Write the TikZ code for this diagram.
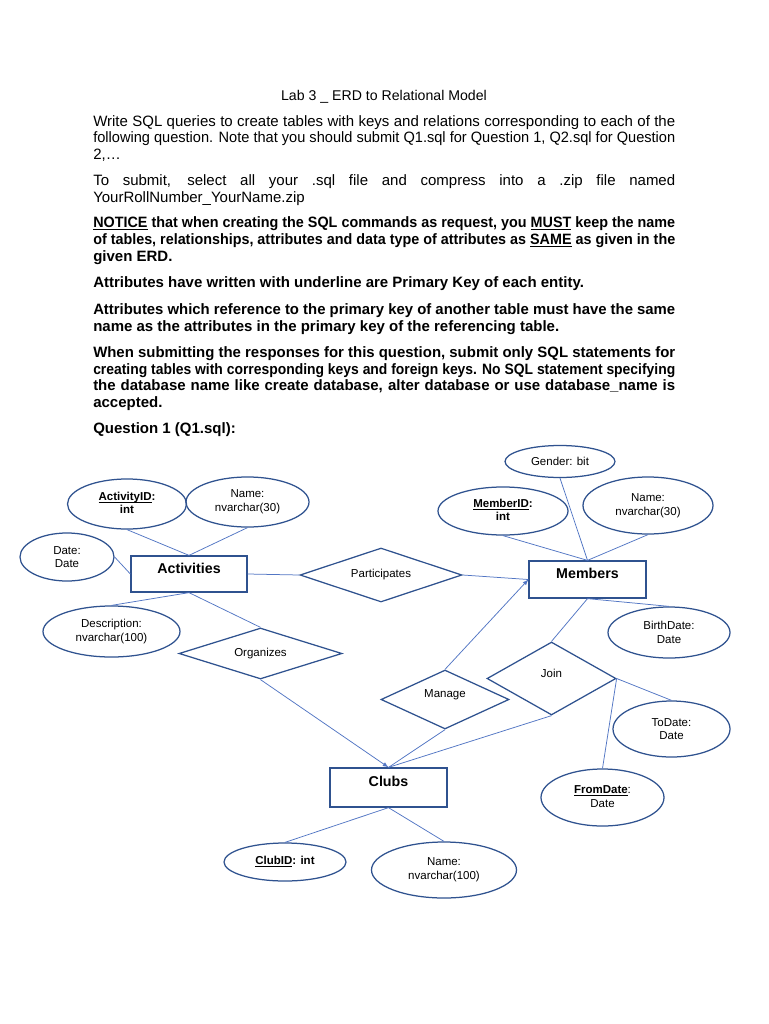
\documentclass[tikz,border=0pt]{standalone}
\usepackage{fontspec}
\setmainfont{Liberation Sans}
\usepackage{graphicx}
\usetikzlibrary{shapes.geometric}

\definecolor{contorno}{RGB}{47,82,143}
\definecolor{linhaazul}{RGB}{82,118,196}

%Largura do texto justificado (582 px da pagina)
\newdimen\largpar \largpar=465.6pt
\newsavebox\caixalinha

%Linha justificada: estica os espacos, ou comprime a linha quando ela passa da largura
\newcommand\linhaj[1]{\sbox\caixalinha{#1}%
  \ifdim\wd\caixalinha>\largpar\relax
    \strut\resizebox{\largpar}{\height}{\usebox\caixalinha}%
  \else
    \strut\makebox[\largpar][s]{#1}%
  \fi}

%Sobe o texto dentro da caixa sem mudar o tamanho dela
\newcommand\sobe[2][4.8pt]{\raisebox{#1}[\height][\depth]{#2}}
%Sublinhado logo abaixo da linha de base (chave primaria)
\newcommand\chave[1]{\underline{\smash{#1}}}

\begin{document}
\begin{tikzpicture}[x=0.8pt, y=-0.8pt,
  tam/.style 2 args={minimum width=#1*0.8pt, minimum height=#2*0.8pt},
  paragrafo/.style={anchor=north west, inner sep=0pt, align=left, font=\fontsize{12}{13.4}\selectfont},
  negrito/.style={paragrafo, font=\bfseries\fontsize{12}{13.4}\selectfont},
  entidade/.style={draw=contorno, line width=1pt, inner sep=0pt, font=\bfseries\fontsize{11.4}{13}\selectfont},
  atributo/.style={ellipse, draw=contorno, line width=1pt, inner sep=0pt, align=center, font=\fontsize{9.2}{10.9}\selectfont},
  relacao/.style={diamond, aspect=2, draw=contorno, line width=1pt, inner sep=0pt, font=\fontsize{9.2}{10.9}\selectfont},
  liga/.style={draw=linhaazul, line width=0.6pt}] %coordenadas em pixels da pagina, y para baixo

\fill[white] (0,0) rectangle (768,1024);
\useasboundingbox (0,0) rectangle (768,1024);

%---------------------------------------------------
%Texto do enunciado
%---------------------------------------------------
\node[anchor=base, inner sep=0pt, font=\fontsize{11.3}{13}\selectfont] (titulo) at (384,100.7) {Lab 3 \_ ERD to Relational Model};

\node[paragrafo] (par1) at (93,114.1) {\linhaj{Write SQL queries to create tables with keys and relations corresponding to each of the}\\
\linhaj{following question. Note that you should submit Q1.sql for Question 1, Q2.sql for Question}\\
\strut 2,…};

\node[paragrafo] (par2) at (93,173.4) {\linhaj{To submit, select all your .sql file and compress into a .zip file named}\\
\strut YourRollNumber\_YourName.zip};

\node[negrito] (par3) at (93,215.7) {\linhaj{\underline{NOTICE} that when creating the SQL commands as request, you \underline{MUST} keep the name}\\
\linhaj{of tables, relationships, attributes and data type of attributes as \underline{SAME} as given in the}\\
\strut given ERD.};

\node[negrito] (par4) at (93,275.7) {\strut Attributes have written with underline are Primary Key of each entity.};

\node[negrito] (par5) at (93,302.4) {\linhaj{Attributes which reference to the primary key of another table must have the same}\\
\strut name as the attributes in the primary key of the referencing table.};

\node[negrito] (par6) at (93,345.4) {\linhaj{When submitting the responses for this question, submit only SQL statements for}\\
\linhaj{creating tables with corresponding keys and foreign keys. No SQL statement specifying}\\
\linhaj{the database name like create database, alter database or use database\_name is}\\
\strut accepted.};

\node[negrito] (questao) at (93,421.4) {\strut Question 1 (Q1.sql):};

%---------------------------------------------------
%Entidades (retangulos)
%---------------------------------------------------
\node[entidade, tam={116}{36}] (activities) at (189,574) {\sobe{Activities}};
\node[entidade, tam={117}{37}] (members) at (587.5,579.5) {\sobe{Members}};
\node[entidade, tam={117}{39}] (clubs) at (388.5,787.5) {\sobe{Clubs}};

%---------------------------------------------------
%Relacionamentos (losangos)
%---------------------------------------------------
\node[relacao, tam={162}{54}] (participates) at (381,575) {Participates};
\node[relacao, tam={163}{51}] (organizes) at (260.5,653.5) {Organizes};
\node[relacao, tam={128}{59}] (manage) at (445,699.5) {\sobe[3.5pt]{Manage}};
\node[relacao, tam={129}{73}] (join) at (551.5,678.5) {\sobe[4pt]{Join}};

%---------------------------------------------------
%Atributos (elipses)
%---------------------------------------------------
\node[atributo, tam={119}{50}] (actid) at (127,504) {\textbf{\chave{ActivityID}:}\\\textbf{int}};
\node[atributo, tam={123}{50}] (actname) at (247.5,502) {Name:\\nvarchar(30)};
\node[atributo, tam={94}{48}] (actdate) at (67,557) {Date:\\Date};
\node[atributo, tam={137}{51}] (actdesc) at (111.5,631.5) {Description:\\nvarchar(100)};

\node[atributo, tam={110}{32}] (gender) at (560,461.5) {Gender: bit};
\node[atributo, tam={130}{48}] (memid) at (503,511) {\textbf{\chave{MemberID}:}\\\textbf{int}};
\node[atributo, tam={130}{57}] (memname) at (648,505.5) {Name:\\nvarchar(30)};
\node[atributo, tam={122}{51}] (birthdate) at (669,632.5) {BirthDate:\\Date};

\node[atributo, tam={117}{56}] (todate) at (671.5,729) {ToDate:\\Date};
\node[atributo, tam={123}{57}] (fromdate) at (602.5,797.5) {\textbf{\chave{FromDate}}:\\Date};

\node[atributo, tam={122}{38}] (clubid) at (285,862) {\textbf{\chave{ClubID}: int}};
\node[atributo, tam={145}{56}] (clubname) at (444,870) {Name:\\nvarchar(100)};

%---------------------------------------------------
%Ligacoes de Activities
%---------------------------------------------------
\draw[liga] (actid.south)--(activities.north);
\draw[liga] (actname.south)--(activities.north);
\draw[liga] (actdate.east)--(activities.west);
\draw[liga] (actdesc.north)--(activities.south);
\draw[liga] (organizes.north)--(activities.south);
\draw[liga] (activities.east)--(participates.west);

%---------------------------------------------------
%Ligacoes de Members
%---------------------------------------------------
\draw[liga] (participates.east)--(members.west);
\draw[liga, -latex] (manage.north)--(members.west);
\draw[liga] (gender.south)--(members.north);
\draw[liga] (memid.south)--(members.north);
\draw[liga] (memname.south)--(members.north);
\draw[liga] (join.north)--(members.south);
\draw[liga] (members.south)--(birthdate.north);

%---------------------------------------------------
%Ligacoes de Clubs
%---------------------------------------------------
\draw[liga, -latex] (organizes.south)--(clubs.north);
\draw[liga] (manage.south)--(clubs.north);
\draw[liga] (join.south)--(clubs.north);
\draw[liga] (clubs.south)--(clubid.north);
\draw[liga] (clubs.south)--(clubname.north);

%Atributos de Join
\draw[liga] (join.east)--(todate.north);
\draw[liga] (join.east)--(fromdate.north);

\end{tikzpicture}
\end{document}
